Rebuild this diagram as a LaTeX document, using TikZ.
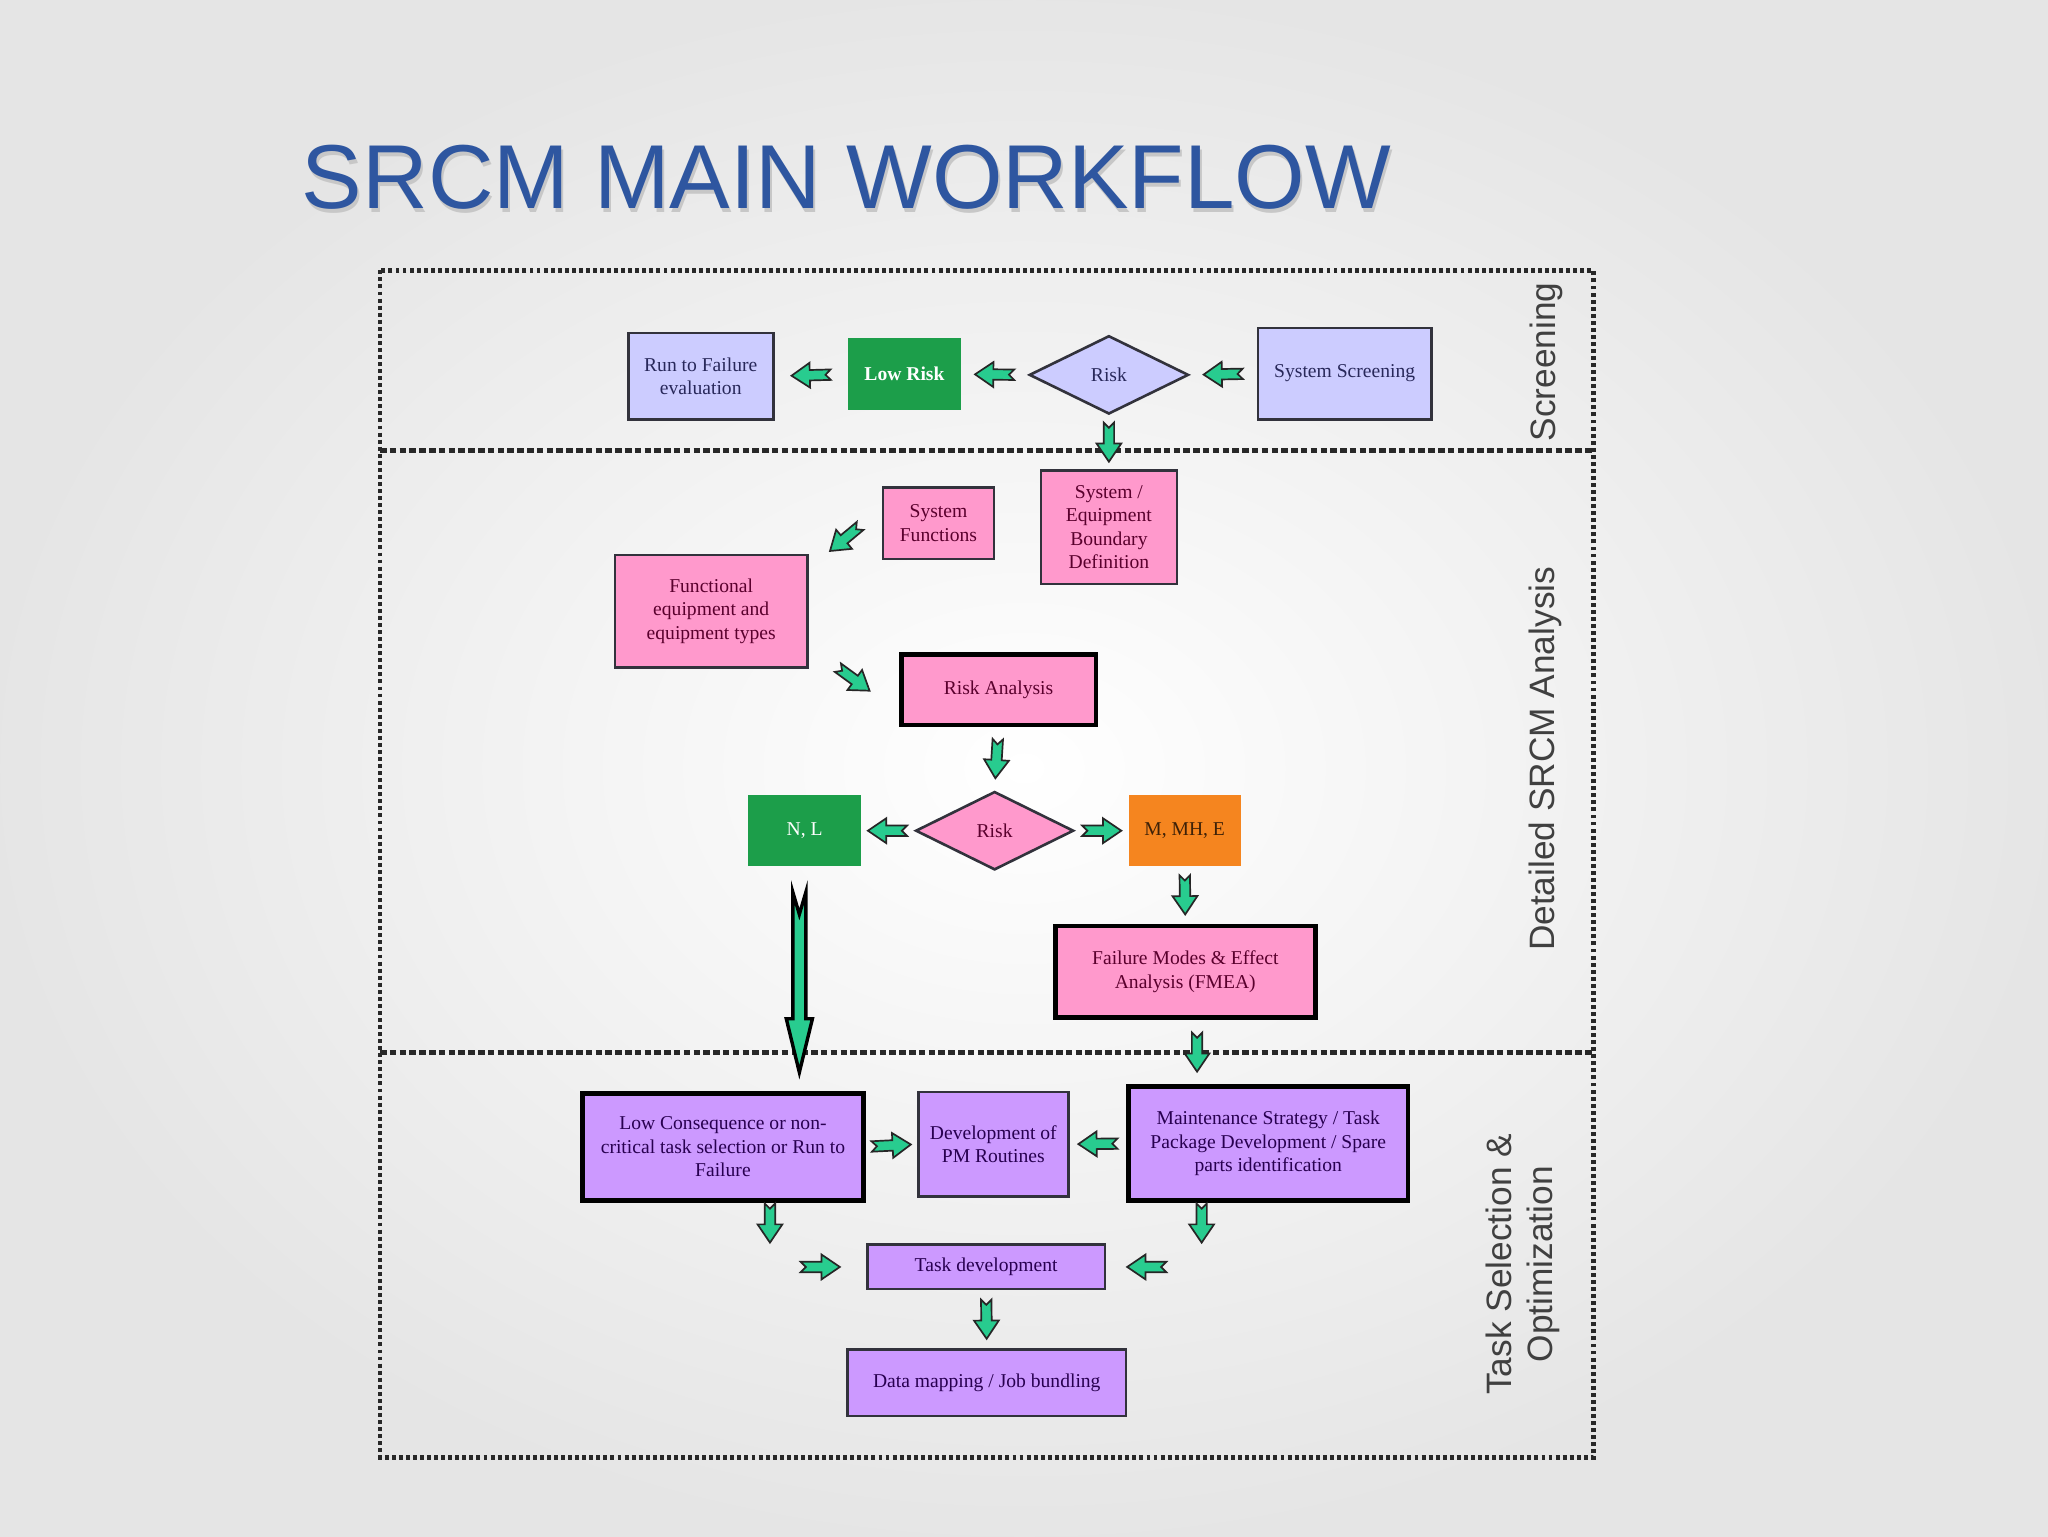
\documentclass[tikz,border=0pt]{standalone}
\usepackage{fontspec}
\setmainfont{Liberation Serif}
\newfontfamily\titlefont{Liberation Sans}
\usetikzlibrary{calc,shapes.geometric}

\definecolor{lav}{RGB}{204,204,255}
\definecolor{pinkf}{RGB}{255,153,204}
\definecolor{purpf}{RGB}{204,153,255}
\definecolor{grn}{RGB}{28,158,74}
\definecolor{org}{RGB}{245,133,31}
\definecolor{arrf}{RGB}{40,204,143}
\definecolor{titleblue}{RGB}{46,86,160}
\definecolor{lblgray}{RGB}{64,64,64}
\definecolor{edgec}{RGB}{50,50,60}
\definecolor{navytxt}{RGB}{40,40,90}
\definecolor{maroontxt}{RGB}{90,0,45}
\definecolor{purptxt}{RGB}{40,0,80}
\definecolor{framec}{RGB}{40,40,40}

\tikzset{
  box/.style={draw=edgec, line width=2pt, inner sep=0pt, align=center,
    font=\fontsize{15}{18}\selectfont},
  thickbox/.style={draw=black, line width=3.5pt},
  lavbox/.style={box, fill=lav, text=navytxt},
  pinkbox/.style={box, fill=pinkf, text=maroontxt},
  purpbox/.style={box, fill=purpf, text=purptxt},
  grnbox/.style={box, draw=grn, fill=grn, text=white},
  orgbox/.style={box, draw=org, fill=org, text=black!75!org},
  dia/.style={diamond, aspect=2, line width=2pt, draw=edgec, inner sep=0pt,
    font=\fontsize{15}{18}\selectfont},
  seclabel/.style={rotate=90, text=lblgray, align=center,
    font=\titlefont\fontsize{27}{32}\selectfont},
  titlestyle/.style={anchor=base west, inner sep=0pt,
    font=\titlefont\fontsize{69.5}{84}\selectfont},
  onpath/.style={pos=.5, sloped, allow upside down},
  barrow/.pic={
    \filldraw[fill=arrf, draw=black!85, line width=1.3pt, line join=miter]
      (-15,4) -- (1,4) -- (1,9.5) -- (15,0) -- (1,-9.5) -- (1,-4) -- (-15,-4) -- (-11,0) -- cycle;},
  longarrow/.pic={
    \filldraw[fill=arrf, draw=black, line width=2.6pt, line join=miter]
      (-69,5) -- (28,5) -- (28,10) -- (69,0) -- (28,-10) -- (28,-5) -- (-69,-5) -- (-52,0) -- cycle;},
}

\begin{document}
\begin{tikzpicture}[x=1pt, y=-1pt]
  \useasboundingbox (0,0) rectangle (1568,1176);
  \shade[inner color=white, outer color=black!10] (0,0) rectangle (1568,1176);

  % title with soft shadow
  \node[titlestyle, text=black!22] (titleshadow) at (232.5,163) {SRCM MAIN WORKFLOW};
  \node[titlestyle, text=titleblue] (title) at (231,160) {SRCM MAIN WORKFLOW};

  % frame and dividers
  \draw[framec, line width=3.5pt, dash pattern=on 3pt off 2.4pt] (291,207) rectangle (1220,1116);
  \draw[framec, line width=3.5pt, dash pattern=on 5pt off 2.5pt] (291,345) -- (1220,345);
  \draw[framec, line width=3.5pt, dash pattern=on 5pt off 2.5pt] (291,806) -- (1220,806);

  % section labels
  \node[seclabel] (labscr) at (1184,277) {Screening};
  \node[seclabel] (labdet) at (1183,581) {Detailed SRCM Analysis};
  \node[seclabel] (labtask) at (1166,968) {Task Selection \&\\Optimization};

  % screening
  \node[lavbox, minimum width=111, minimum height=66] (rtf) at (536.5,288) {Run to Failure\\evaluation};
  \node[grnbox, minimum width=85, minimum height=53, font=\bfseries\fontsize{15}{18}\selectfont] (lowrisk) at (692.5,286.5) {Low Risk};
  \node[dia, fill=lav, text=navytxt, minimum width=122, minimum height=60] (risk1) at (849,287) {Risk};
  \node[lavbox, minimum width=133, minimum height=70] (sysscr) at (1029.5,286) {System Screening};

  % detailed analysis
  \node[pinkbox, minimum width=104, minimum height=87] (sebd) at (849,403.5) {System /\\Equipment\\Boundary\\Definition};
  \node[pinkbox, minimum width=85, minimum height=55] (sysfun) at (718.5,400.5) {System\\Functions};
  \node[pinkbox, minimum width=147, minimum height=86] (func) at (544.5,468) {Functional\\equipment and\\equipment types};
  \node[pinkbox, thickbox, minimum width=149, minimum height=54] (ra) at (764.5,528) {Risk Analysis};
  \node[dia, fill=pinkf, text=maroontxt, minimum width=121, minimum height=60] (risk2) at (761.5,636) {Risk};
  \node[grnbox, minimum width=84, minimum height=52] (nl) at (616,636) {N, L};
  \node[orgbox, minimum width=84, minimum height=52] (mmhe) at (907,636) {M, MH, E};
  \node[pinkbox, thickbox, minimum width=199, minimum height=70] (fmea) at (907.5,744) {Failure Modes \& Effect\\Analysis (FMEA)};

  % task selection
  \node[purpbox, thickbox, minimum width=215, minimum height=82] (lowc) at (553.5,878) {Low Consequence or non-\\critical task selection or Run to\\Failure};
  \node[purpbox, minimum width=115, minimum height=80] (pmr) at (760.5,876) {Development of\\PM Routines};
  \node[purpbox, thickbox, minimum width=214, minimum height=87] (maint) at (971,875.5) {Maintenance Strategy / Task\\Package Development / Spare\\parts identification};
  \node[purpbox, minimum width=182, minimum height=34] (taskdev) at (755,970) {Task development};
  \node[purpbox, minimum width=213, minimum height=51] (data) at (755.5,1058.5) {Data mapping / Job bundling};

  % block arrows: screening
  \path (sysscr.west) -- (risk1.east) pic[onpath]{barrow};
  \path (risk1.west) -- (lowrisk.east) pic[onpath]{barrow};
  \path (lowrisk.west) -- (rtf.east) pic[onpath]{barrow};
  \path (risk1.south) -- (sebd.north) pic[onpath]{barrow};

  % detailed
  \path (sysfun.west) -- (func.north east) pic[onpath, rotate=17]{barrow};
  \path (func.south east) -- (ra.west) pic[onpath, rotate=-23]{barrow};
  \path (ra.south) -- (risk2.north) pic[onpath]{barrow};
  \path (risk2.west) -- (nl.east) pic[onpath]{barrow};
  \path (risk2.east) -- (mmhe.west) pic[onpath]{barrow};
  \path (mmhe.south) -- (fmea.north) pic[onpath]{barrow};
  \path ([xshift=9]fmea.south) -- ([xshift=9]fmea.south |- maint.north) pic[onpath]{barrow};

  \coordinate (nltail) at (612,683);
  \coordinate (nltip) at (612,821);
  \path (nltail) -- (nltip) pic[onpath]{longarrow};

  % task section
  \path (lowc.east) -- (pmr.west) pic[onpath]{barrow};
  \path (maint.west) -- (pmr.east) pic[onpath]{barrow};
  \path ([xshift=36]lowc.south) -- ([xshift=36]lowc.south |- taskdev.north) pic[onpath]{barrow};
  \path ([xshift=-51]maint.south) -- ([xshift=-51]maint.south |- taskdev.north) pic[onpath]{barrow};
  \path ([xshift=-70]taskdev.west) -- (taskdev.west) pic[onpath]{barrow};
  \path ([xshift=62]taskdev.east) -- (taskdev.east) pic[onpath]{barrow};
  \path (taskdev.south) -- (data.north) pic[onpath]{barrow};
\end{tikzpicture}
\end{document}
